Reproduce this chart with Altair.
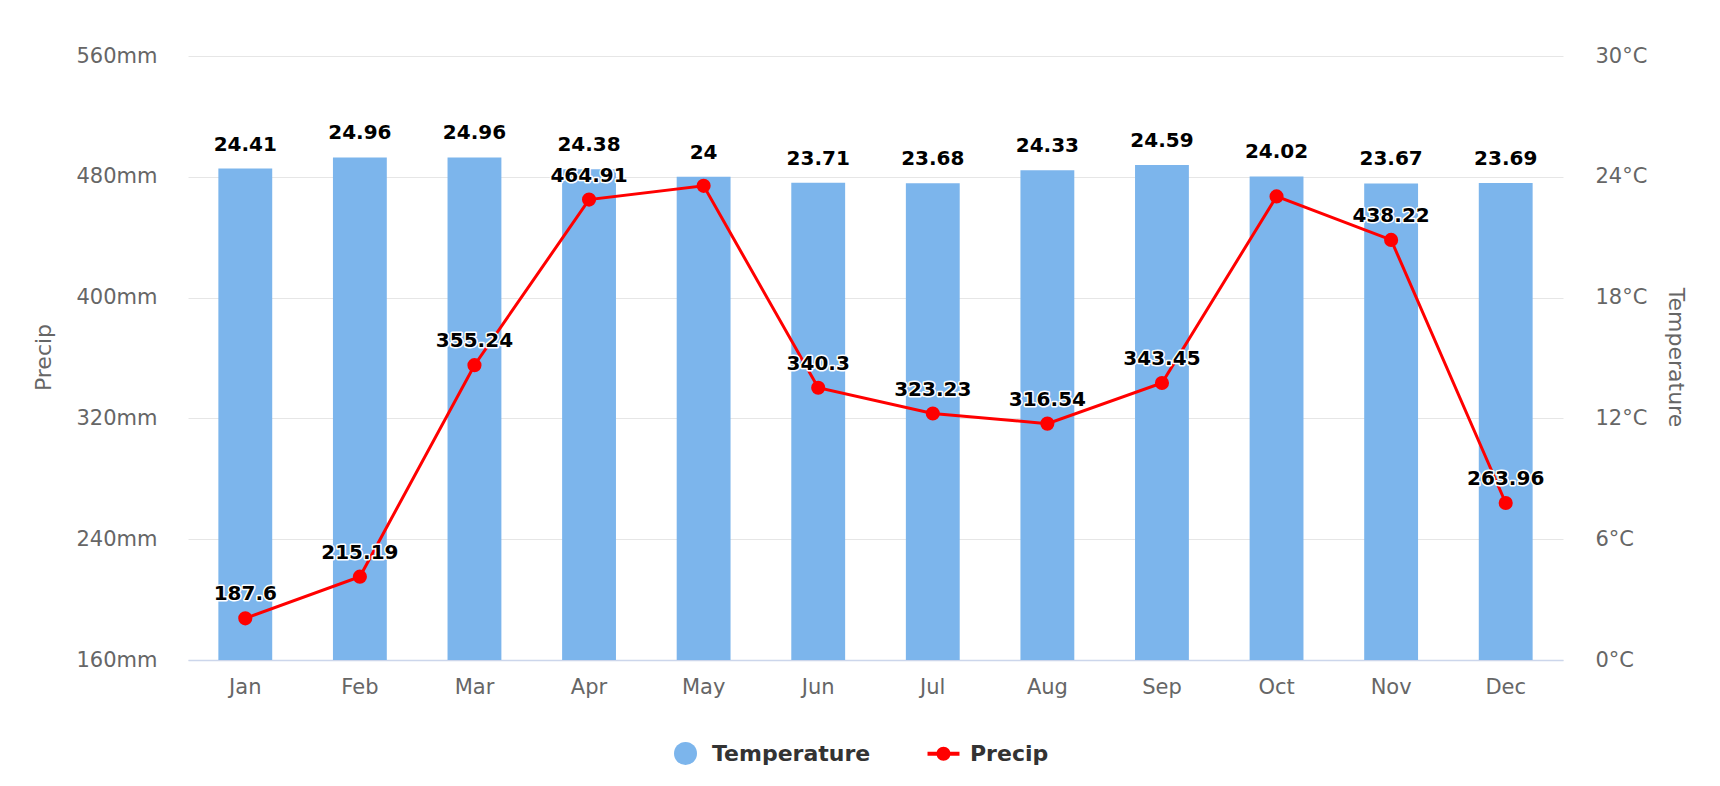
import altair as alt
import pandas as pd

# Monthly climate values
months = ["Jan", "Feb", "Mar", "Apr", "May", "Jun",
          "Jul", "Aug", "Sep", "Oct", "Nov", "Dec"]
temperature = [24.41, 24.96, 24.96, 24.38, 24, 23.71,
               23.68, 24.33, 24.59, 24.02, 23.67, 23.69]
precip = [187.6, 215.19, 355.24, 464.91, 474, 340.3,
          323.23, 316.54, 343.45, 467, 438.22, 263.96]
# precip labels that stay visible (the others collide with bar labels)
precip_label_visible = [True, True, True, True, False, True,
                        True, True, True, False, True, True]

series_names = ["Temperature", "Precip"]
series_colors = ["#7cb5ec", "#ff0000"]

df = pd.DataFrame({
    "month": months,
    "temperature": temperature,
    "precip": precip,
    "show": precip_label_visible,
})

FONT = "DejaVu Sans"
GRID = "#e6e6e6"
LABEL = "#666666"

x_enc = alt.X(
    "month:N", sort=months, title=None,
    scale=alt.Scale(paddingInner=0.53, paddingOuter=0.265),
    axis=alt.Axis(labelAngle=0, labelFontSize=21, labelColor=LABEL, labelFont=FONT,
                  labelPadding=16, ticks=False, grid=False,
                  domainColor="#ccd6eb", domainWidth=1.5),
)

temp_scale = alt.Scale(domain=[0, 30], nice=False, zero=True)
precip_scale = alt.Scale(domain=[160, 560], nice=False, zero=False)

temp_axis = alt.Axis(
    orient="right", values=[0, 6, 12, 18, 24, 30], labelExpr="datum.value + '°C'",
    grid=False, domain=False, ticks=False, labelPadding=32,
    labelFontSize=21, labelColor=LABEL, labelFont=FONT,
    title="Temperature", titleFont=FONT, titleFontSize=22, titleFontWeight="normal",
    titleColor=LABEL, titleAngle=90, titleX=112, titleY=301,
    titleAlign="center", titleBaseline="middle",
)
precip_axis = alt.Axis(
    orient="left", values=[160, 240, 320, 400, 480, 560], labelExpr="datum.value + 'mm'",
    grid=True, gridColor=GRID, gridWidth=1, domain=False, ticks=False, labelPadding=31,
    labelFontSize=21, labelColor=LABEL, labelFont=FONT,
    title="Precip", titleFont=FONT, titleFontSize=22, titleFontWeight="normal",
    titleColor=LABEL, titleAngle=270, titleX=-145, titleY=301,
    titleAlign="center", titleBaseline="middle",
)

base = alt.Chart(df)

bars = base.mark_bar(color="#7cb5ec").encode(
    x=x_enc,
    y=alt.Y("temperature:Q", scale=temp_scale, axis=temp_axis),
)
bar_labels = base.mark_text(
    font=FONT, fontSize=20, fontWeight="bold", color="#000000",
    baseline="middle", dy=-24,
).encode(
    x=x_enc,
    y=alt.Y("temperature:Q", scale=temp_scale, axis=temp_axis),
    text=alt.Text("temperature:Q", format=".2~f"),
)
temp_layer = alt.layer(bars, bar_labels)

line = base.mark_line(color="#ff0000", strokeWidth=3).encode(
    x=x_enc,
    y=alt.Y("precip:Q", scale=precip_scale, axis=precip_axis),
)
points = base.mark_circle(color="#ff0000", size=200, opacity=1).encode(
    x=x_enc,
    y=alt.Y("precip:Q", scale=precip_scale, axis=precip_axis),
)
label_src = base.transform_filter("datum.show")
precip_halo = label_src.mark_text(
    font=FONT, fontSize=20, fontWeight="bold", color="#ffffff",
    stroke="#ffffff", strokeWidth=3, strokeJoin="round",
    baseline="middle", dy=-24,
).encode(
    x=x_enc,
    y=alt.Y("precip:Q", scale=precip_scale, axis=precip_axis),
    text=alt.Text("precip:Q", format=".2~f"),
)
precip_text = label_src.mark_text(
    font=FONT, fontSize=20, fontWeight="bold", color="#000000",
    baseline="middle", dy=-24,
).encode(
    x=x_enc,
    y=alt.Y("precip:Q", scale=precip_scale, axis=precip_axis),
    text=alt.Text("precip:Q", format=".2~f"),
)

legend_cfg = dict(
    title=None, orient="none", direction="horizontal",
    legendX=486, legendY=686, padding=0,
    symbolSize=529, symbolStrokeWidth=0, symbolOpacity=1,
    labelFont=FONT, labelFontSize=22, labelFontWeight="bold",
    labelColor="#333333", labelOffset=15, columnPadding=56,
)

# legend-only layer: draws nothing, carries the series colour/shape scales
legend_layer = base.transform_calculate(series="'Precip'").transform_filter("false").mark_point(
    filled=True, opacity=1
).encode(
    x=x_enc,
    y=alt.Y("precip:Q", scale=precip_scale, axis=precip_axis),
    color=alt.Color(
        "series:N",
        scale=alt.Scale(domain=series_names, range=series_colors),
        legend=alt.Legend(**legend_cfg),
    ),
    shape=alt.Shape(
        "series:N",
        scale=alt.Scale(
            domain=series_names,
            range=[
                "circle",
                "M-1.39,-0.17 H1.39 V0.17 H-1.39 Z "
                "M-0.61,0 A0.61,0.61 0 1,1 0.61,0 A0.61,0.61 0 1,1 -0.61,0 Z",
            ],
        ),
        legend=alt.Legend(**legend_cfg),
    ),
)

precip_layer = alt.layer(line, points, precip_halo, precip_text, legend_layer)

chart = alt.layer(temp_layer, precip_layer).resolve_scale(
    y="independent"
).properties(
    width=1375,
    height=604,
    autosize=alt.AutoSizeParams(type="none"),
    padding={"left": 188, "top": 56, "right": 157, "bottom": 126},
    background="#ffffff",
).configure_view(stroke=None)

chart.save("out.html", embed_options={"renderer": "svg", "actions": False})
